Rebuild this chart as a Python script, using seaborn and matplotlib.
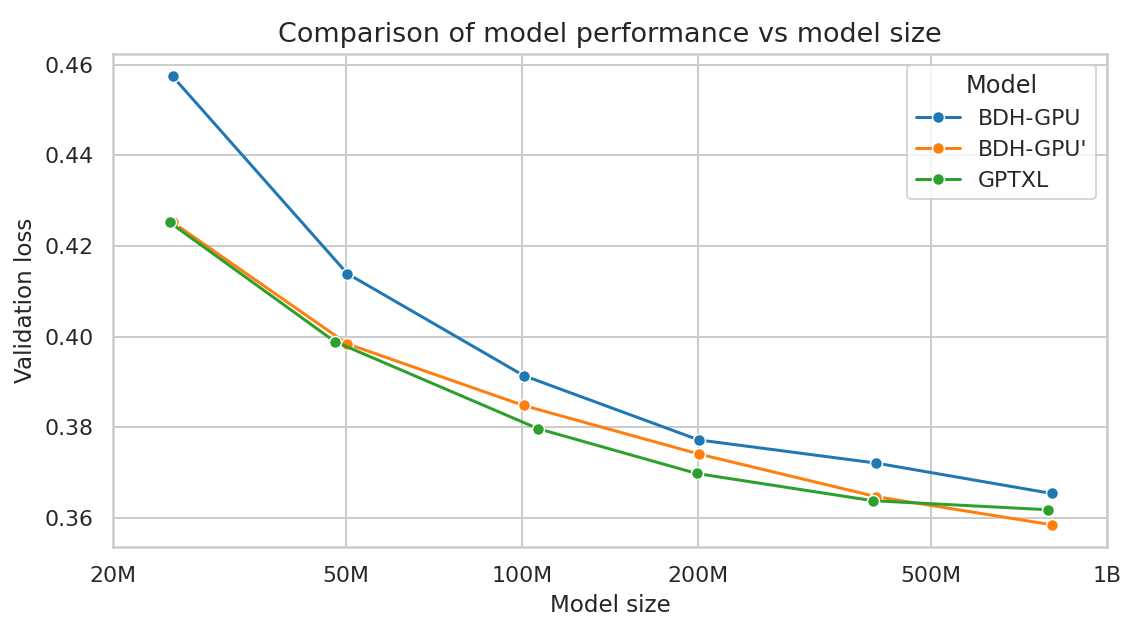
import pandas as pd
import matplotlib
matplotlib.use("Agg")
import matplotlib.pyplot as plt
import seaborn as sns

# values
bdh_sizes = [25.3e6, 50.3e6, 100.7e6, 200.6e6, 403e6, 804e6]
bdh_loss = [0.4574, 0.4139, 0.3914, 0.3772, 0.3721, 0.3654]

bdh_prime_sizes = [25.3e6, 50.3e6, 100.7e6, 200.6e6, 403e6, 804e6]
bdh_prime_loss = [0.4252, 0.3984, 0.3848, 0.3741, 0.3647, 0.3585]

gptxl_sizes = [25.0e6, 47.9e6, 106.5e6, 199e6, 398e6, 793e6]
gptxl_loss = [0.4252, 0.3989, 0.3797, 0.3698, 0.3638, 0.3618]

model_names = ["BDH-GPU", "BDH-GPU'", "GPTXL"]
tick_values = [20e6, 50e6, 100e6, 200e6, 500e6, 1e9]
tick_labels = ["20M", "50M", "100M", "200M", "500M", "1B"]


def build_frame():
    """Put the three series into one long table for seaborn."""
    parts = []
    for name, sizes, loss in zip(model_names,
                                 [bdh_sizes, bdh_prime_sizes, gptxl_sizes],
                                 [bdh_loss, bdh_prime_loss, gptxl_loss]):
        parts.append(pd.DataFrame({"Model size": sizes,
                                   "Validation loss": loss,
                                   "Model": name}))
    return pd.concat(parts, ignore_index=True)


if __name__ == "__main__":
    sns.set_theme(style="whitegrid", palette="tab10")
    plt.rcParams["font.family"] = ["DejaVu Sans"]

    dpi = 144
    fig, ax = plt.subplots(figsize=(1140 / dpi, 634 / dpi), dpi=dpi)
    fig.subplots_adjust(left=0.099, right=0.971, top=0.915, bottom=0.137)

    df = build_frame()
    sns.lineplot(data=df, x="Model size", y="Validation loss", hue="Model",
                 marker="o", ax=ax)

    ax.set_xscale("log")
    ax.set_xlim(tick_values[0], tick_values[-1])
    ax.set_xticks(tick_values)
    ax.set_xticklabels(tick_labels)
    ax.xaxis.set_minor_locator(matplotlib.ticker.NullLocator())

    ax.set_title("Comparison of model performance vs model size", fontsize=13.5)
    ax.set_xlabel("Model size", fontsize=11.5)
    ax.set_ylabel("Validation loss", fontsize=11.5)
    ax.legend(title="Model", loc="upper right")

    fig.savefig("out.png", dpi=dpi)
    plt.close(fig)
